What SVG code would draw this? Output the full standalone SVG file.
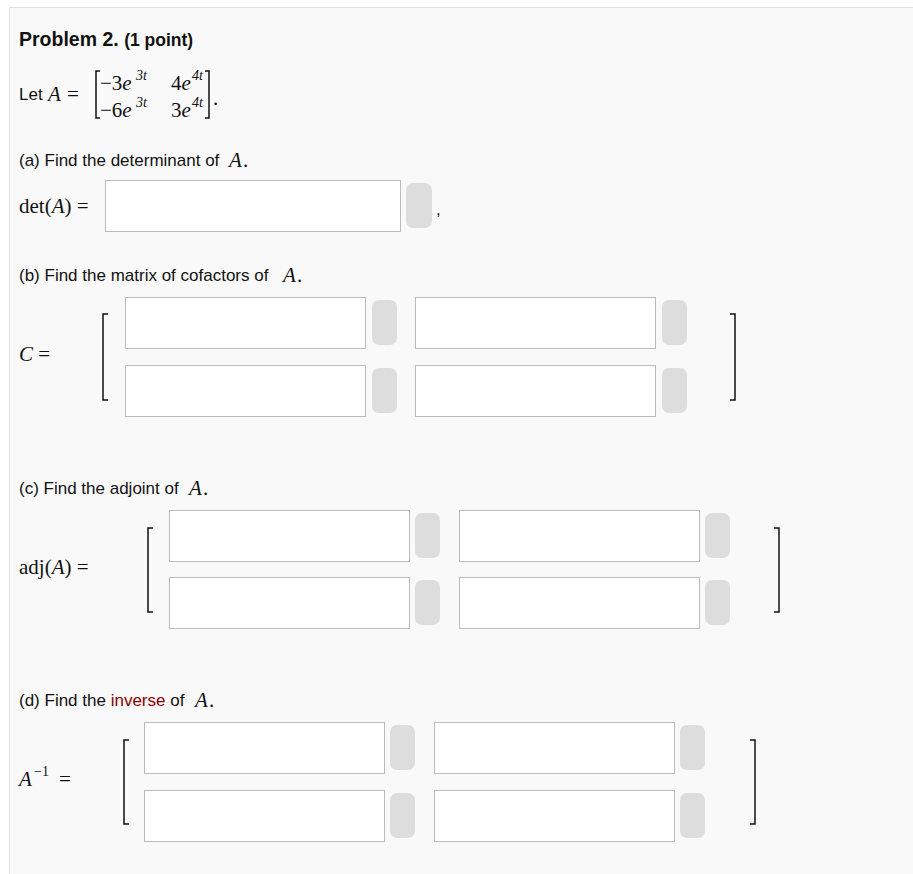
<svg xmlns="http://www.w3.org/2000/svg" width="913" height="874" viewBox="0 0 913 874">
<style>
.t{font-family:"Liberation Sans",Arial,sans-serif;font-size:17px;fill:#111}
.m{font-family:"Liberation Serif","Times New Roman",serif;font-size:21px;fill:#111}
.mi{font-family:"Liberation Serif","Times New Roman",serif;font-size:21px;font-style:italic;fill:#111}
.s{font-family:"Liberation Serif",serif;font-size:14px;font-style:italic;fill:#111}
.in{fill:#fff;stroke:#bbb;stroke-width:1}
.p{fill:#ddd}
.br{fill:none;stroke:#111;stroke-width:1.5}
</style>
<rect x="0" y="0" width="913" height="874" fill="#fff"/>
<rect x="9.5" y="7.5" width="910" height="880" fill="#f9f9f9" stroke="#e2e2e2"/>
<g id="title"><text x="19" y="46" class="t" style="font-weight:bold;font-size:19.5px">Problem 2. <tspan font-size="17.5">(1 point)</tspan></text></g>
<g id="matrixA">
<text x="19" y="100" class="t">Let</text><text x="48" y="101" class="mi">A</text><text x="67" y="101" class="m">=</text>
<path class="br" d="M100,71 H96 V118 H100 M205,71 H209 V118 H205"/>
<text x="100" y="90" class="m">−3<tspan font-style="italic">e</tspan></text><text x="136" y="80" class="s">3t</text>
<text x="171" y="90" class="m">4<tspan font-style="italic">e</tspan></text><text x="192" y="80" class="s">4t</text>
<text x="100" y="117" class="m">−6<tspan font-style="italic">e</tspan></text><text x="136" y="107" class="s">3t</text>
<text x="171" y="117" class="m">3<tspan font-style="italic">e</tspan></text><text x="192" y="107" class="s">4t</text>
<text x="213" y="105" class="m">.</text>
</g>
<g id="a">
<text x="19" y="166" class="t">(a) Find the determinant of</text><text x="229" y="167" class="mi">A</text><text x="243" y="167" class="m">.</text>
<text x="19" y="213" class="m">det(<tspan font-style="italic">A</tspan>) =</text>
<rect class="in" x="105.5" y="180.5" width="295" height="51"/>
<rect class="p" x="406" y="183" width="26" height="45" rx="7"/>
<text x="436" y="215" class="t">,</text>
</g>
<g id="b">
<text x="19" y="281" class="t">(b) Find the matrix of cofactors of</text><text x="283" y="282" class="mi">A</text><text x="297" y="282" class="m">.</text>
<text x="19" y="361" class="mi">C <tspan font-style="normal">=</tspan></text>
<path class="br" d="M108,314 H103 V400 H108 M730,314 H735 V400 H730"/>
<rect class="in" x="125.5" y="297.5" width="240" height="51"/><rect class="p" x="372" y="300" width="25" height="45" rx="7"/>
<rect class="in" x="415.5" y="297.5" width="240" height="51"/><rect class="p" x="662" y="300" width="25" height="45" rx="7"/>
<rect class="in" x="125.5" y="365.5" width="240" height="51"/><rect class="p" x="372" y="368" width="25" height="45" rx="7"/>
<rect class="in" x="415.5" y="365.5" width="240" height="51"/><rect class="p" x="662" y="368" width="25" height="45" rx="7"/>
</g>
<g id="c">
<text x="19" y="494" class="t">(c) Find the adjoint of</text><text x="189" y="495" class="mi">A</text><text x="203" y="495" class="m">.</text>
<text x="19" y="574" class="m">adj(<tspan font-style="italic">A</tspan>) =</text>
<path class="br" d="M153,528 H148 V612 H153 M774,528 H779 V612 H774"/>
<rect class="in" x="169.5" y="510.5" width="240" height="51"/><rect class="p" x="415" y="513" width="25" height="45" rx="7"/>
<rect class="in" x="459.5" y="510.5" width="240" height="51"/><rect class="p" x="705" y="513" width="25" height="45" rx="7"/>
<rect class="in" x="169.5" y="577.5" width="240" height="51"/><rect class="p" x="415" y="580" width="25" height="45" rx="7"/>
<rect class="in" x="459.5" y="577.5" width="240" height="51"/><rect class="p" x="705" y="580" width="25" height="45" rx="7"/>
</g>
<g id="d">
<text x="19" y="706" class="t">(d) Find the <tspan fill="#8b0000">inverse</tspan> of</text><text x="195" y="707" class="mi">A</text><text x="209" y="707" class="m">.</text>
<text x="19" y="786" class="mi">A</text><text x="34" y="776" class="s" style="font-style:normal">−1</text><text x="59" y="786" class="m">=</text>
<path class="br" d="M129,740 H124 V824 H129 M750,740 H755 V824 H750"/>
<rect class="in" x="144.5" y="722.5" width="240" height="51"/><rect class="p" x="390" y="725" width="25" height="45" rx="7"/>
<rect class="in" x="434.5" y="722.5" width="240" height="51"/><rect class="p" x="680" y="725" width="25" height="45" rx="7"/>
<rect class="in" x="144.5" y="790.5" width="240" height="51"/><rect class="p" x="390" y="793" width="25" height="45" rx="7"/>
<rect class="in" x="434.5" y="790.5" width="240" height="51"/><rect class="p" x="680" y="793" width="25" height="45" rx="7"/>
</g>
</svg>
